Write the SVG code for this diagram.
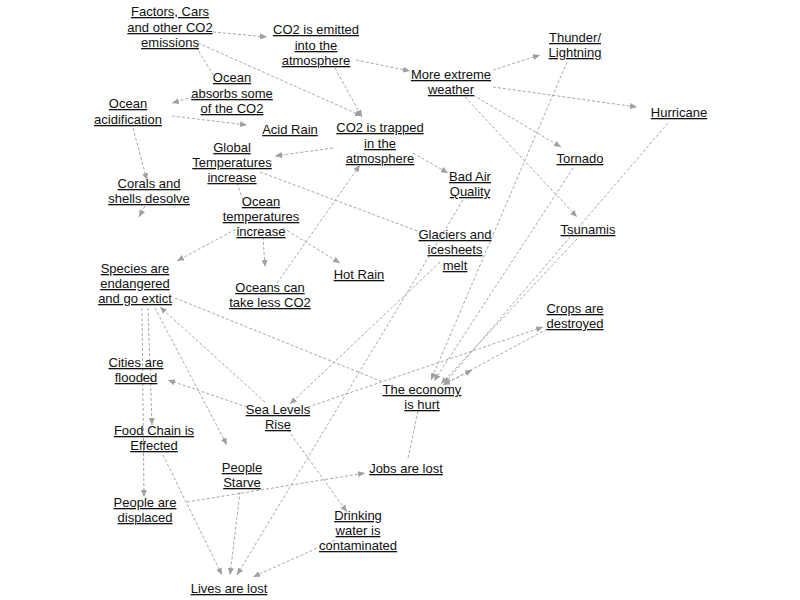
<svg xmlns="http://www.w3.org/2000/svg" width="800" height="600" viewBox="0 0 800 600">
<defs>
<marker id="ah" markerWidth="7" markerHeight="6" refX="7" refY="3" orient="auto" markerUnits="userSpaceOnUse">
<path d="M0,0 L7,3 L0,6 z" fill="#a0a0a0"/>
</marker>
<style>
.n text{font-family:"Liberation Sans",Arial,sans-serif;font-size:13px;fill:#111;text-anchor:middle;text-decoration:underline;}
.c path{fill:none;stroke:#a8a8a8;stroke-width:1;stroke-dasharray:3,2;}
.c path.a{marker-end:url(#ah);}
</style>
</defs>
<rect width="800" height="600" fill="#fff"/>
<g id="connectors" class="c">
<path class="a" d="M213,32 L267,37"/>
<path class="a" d="M198,43 L362,116"/>
<path d="M196,47 L214,76"/>
<path class="a" d="M356,60 L410,71"/>
<path class="a" d="M335,68 L362,117"/>
<path class="a" d="M493,70 L540,55"/>
<path class="a" d="M493,87 L637,107"/>
<path class="a" d="M473,95 L561,147"/>
<path class="a" d="M465,97 L577,217"/>
<path class="a" d="M567,62 L431,380"/>
<path class="a" d="M573,168 L434,381"/>
<path class="a" d="M668,123 L444,384"/>
<path class="a" d="M577,239 L441,384"/>
<path class="a" d="M193,97 L172,103"/>
<path class="a" d="M172,116 L247,125"/>
<path class="a" d="M133,128 L147,180"/>
<path class="a" d="M145,206 L139,217"/>
<path class="a" d="M333,148 L275,156"/>
<path class="a" d="M413,153 L448,173"/>
<path d="M237,183 L243,200"/>
<path d="M260,172 L420,232"/>
<path class="a" d="M240,227 L177,261"/>
<path class="a" d="M263,237 L265,267"/>
<path class="a" d="M283,228 L340,263"/>
<path class="a" d="M277,283 L360,165"/>
<path class="a" d="M440,262 L290,404"/>
<path class="a" d="M463,200 L237,575"/>
<path class="a" d="M265,402 L160,307"/>
<path class="a" d="M247,407 L168,380"/>
<path class="a" d="M308,407 L543,327"/>
<path class="a" d="M288,430 L347,512"/>
<path d="M175,298 L383,382"/>
<path class="a" d="M142,308 L144,497"/>
<path class="a" d="M148,308 L152,425"/>
<path class="a" d="M155,308 L227,445"/>
<path class="a" d="M547,329 L443,385"/>
<path class="a" d="M443,385 L472,370"/>
<path d="M418,411 L408,458"/>
<path class="a" d="M163,455 L222,575"/>
<path class="a" d="M240,492 L230,575"/>
<path class="a" d="M187,502 L365,473"/>
<path class="a" d="M335,540 L253,577"/>
</g>
<g id="factors" class="n"><text x="170" y="16">Factors, Cars</text><text x="170" y="32">and other CO2</text><text x="170" y="47">emissions</text></g>
<g id="emitted" class="n"><text x="316" y="34">CO2 is emitted</text><text x="316" y="50">into the</text><text x="316" y="65">atmosphere</text></g>
<g id="absorbs" class="n"><text x="232" y="82">Ocean</text><text x="232" y="98">absorbs some</text><text x="232" y="113">of the CO2</text></g>
<g id="acidification" class="n"><text x="128" y="108">Ocean</text><text x="128" y="124">acidification</text></g>
<g id="acidrain" class="n"><text x="290" y="134">Acid Rain</text></g>
<g id="trapped" class="n"><text x="380" y="132">CO2 is trapped</text><text x="380" y="148">in the</text><text x="380" y="163">atmosphere</text></g>
<g id="thunder" class="n"><text x="575" y="42">Thunder/</text><text x="575" y="57">Lightning</text></g>
<g id="weather" class="n"><text x="451" y="79">More extreme</text><text x="451" y="94">weather</text></g>
<g id="hurricane" class="n"><text x="679" y="117">Hurricane</text></g>
<g id="globaltemp" class="n"><text x="232" y="152">Global</text><text x="232" y="167">Temperatures</text><text x="232" y="182">increase</text></g>
<g id="corals" class="n"><text x="149" y="188">Corals and</text><text x="149" y="203">shells desolve</text></g>
<g id="badair" class="n"><text x="470" y="181">Bad Air</text><text x="470" y="196">Quality</text></g>
<g id="tornado" class="n"><text x="580" y="163">Tornado</text></g>
<g id="oceantemp" class="n"><text x="261" y="206">Ocean</text><text x="261" y="221">temperatures</text><text x="261" y="236">increase</text></g>
<g id="glaciers" class="n"><text x="455" y="239">Glaciers and</text><text x="455" y="254">icesheets</text><text x="455" y="270">melt</text></g>
<g id="tsunamis" class="n"><text x="588" y="234">Tsunamis</text></g>
<g id="species" class="n"><text x="135" y="273">Species are</text><text x="135" y="288">endangered</text><text x="135" y="303">and go extict</text></g>
<g id="hotrain" class="n"><text x="359" y="279">Hot Rain</text></g>
<g id="oceanscan" class="n"><text x="270" y="292">Oceans can</text><text x="270" y="307">take less CO2</text></g>
<g id="crops" class="n"><text x="575" y="313">Crops are</text><text x="575" y="328">destroyed</text></g>
<g id="cities" class="n"><text x="136" y="367">Cities are</text><text x="136" y="382">flooded</text></g>
<g id="sealevels" class="n"><text x="278" y="414">Sea Levels</text><text x="278" y="429">Rise</text></g>
<g id="economy" class="n"><text x="422" y="394">The economy</text><text x="422" y="409">is hurt</text></g>
<g id="foodchain" class="n"><text x="154" y="435">Food Chain is</text><text x="154" y="450">Effected</text></g>
<g id="starve" class="n"><text x="242" y="472">People</text><text x="242" y="487">Starve</text></g>
<g id="jobs" class="n"><text x="406" y="473">Jobs are lost</text></g>
<g id="displaced" class="n"><text x="145" y="507">People are</text><text x="145" y="522">displaced</text></g>
<g id="drinking" class="n"><text x="358" y="520">Drinking</text><text x="358" y="535">water is</text><text x="358" y="550">contaminated</text></g>
<g id="lives" class="n"><text x="229" y="593">Lives are lost</text></g>
</svg>
